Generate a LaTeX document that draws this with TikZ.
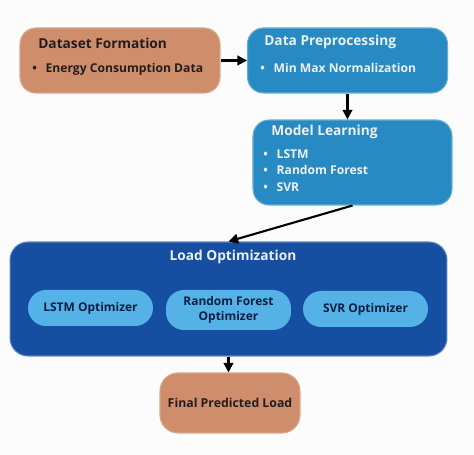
\documentclass[tikz,border=0pt]{standalone}
\usepackage{fontspec}
\setmainfont{Open Sans}
\usepackage{tikz}
\usetikzlibrary{arrows.meta,positioning,calc}
\definecolor{boxTan}{RGB}{206,142,108}
\definecolor{boxBlue}{RGB}{40,138,194}
\definecolor{boxNavy}{RGB}{22,78,162}
\definecolor{boxSky}{RGB}{84,178,230}
\definecolor{inkDark}{RGB}{35,30,30}
\definecolor{inkLight}{RGB}{235,240,245}

\begin{document}
\begin{tikzpicture}[x=0.02cm,y=-0.02cm,
  tanbox/.style={rectangle,rounded corners=0.32cm,fill=boxTan,draw=boxTan!80!white,
                 line width=0.6pt},
  bluebox/.style={rectangle,rounded corners=0.32cm,fill=boxBlue,draw=boxBlue!70!white,
                  line width=0.6pt},
  navybox/.style={rectangle,rounded corners=0.36cm,fill=boxNavy,draw=boxNavy!70!white,
                  line width=0.6pt},
  pill/.style={rectangle,rounded corners=0.36cm,fill=boxSky,minimum width=2.5cm,
               font=\fontsize{6.8}{8.2}\selectfont\bfseries,text=boxNavy!40!black,align=center},
  ttl/.style={font=\fontsize{7.8}{9}\selectfont\bfseries,inner sep=0pt},
  lst/.style={font=\fontsize{6.9}{9.6}\selectfont\bfseries,inner sep=0pt,align=left,anchor=north west},
  arr/.style={-{Triangle[length=5.5pt,width=5.5pt]},line width=1.2pt,black}
]
  \useasboundingbox[fill=white!98!gray](0,0) rectangle (474,455);

  % boxes
  \node[tanbox,minimum width=4cm,minimum height=1.3cm](DF) at (120,60.5){};
  \node[bluebox,minimum width=4cm,minimum height=1.3cm](DP) at (347.5,60.5){};
  \node[bluebox,minimum width=3.98cm,minimum height=1.7cm](ML) at (352.5,162.5){};
  \node[navybox,minimum width=8.74cm,minimum height=2.28cm](LO) at (228.5,299){};
  \node[tanbox,rounded corners=0.36cm,minimum width=2.8cm,minimum height=1.2cm](FP) at (230,403){};

  % texts
  \node[ttl,text=inkDark,anchor=west](DFt) at (38,43){Dataset Formation};
  \node[lst,text=inkDark](DFl) at (32,63){\textbullet\hspace{5pt}Energy Consumption Data};
  \node[ttl,text=inkLight,anchor=west](DPt) at (264,42){Data Preprocessing};
  \node[lst,text=inkLight](DPl) at (260,63){\textbullet\hspace{5pt}Min Max Normalization};
  \node[ttl,text=inkLight,anchor=west](MLt) at (271,132){Model Learning};
  \node[lst,text=inkLight](MLl) at (263,149)
      {\textbullet\hspace{5pt}LSTM\\\textbullet\hspace{5pt}Random Forest\\\textbullet\hspace{5pt}SVR};
  \node[ttl,text=inkLight](LOt) at (233,257){Load Optimization};
  \node[ttl,text=inkDark,font=\fontsize{7}{9}\selectfont\bfseries](FPt) at (FP){Final Predicted Load};

  % optimizers
  \node[pill,minimum height=0.72cm](O1) at (90.5,308){LSTM Optimizer};
  \node[pill,minimum height=0.8cm](O2) at (228.5,310){Random Forest\\Optimizer};
  \node[pill,minimum height=0.72cm](O3) at (365.5,309){SVR Optimizer};

  % arrows
  \draw[arr](DF.east)--(DP.west);
  \draw[arr](DP.south)--(DP.south |- ML.north);
  \draw[arr](ML.south)--(LO.north);
  \draw[arr](LO.south)--(LO.south |- FP.north);
\end{tikzpicture}
\end{document}
